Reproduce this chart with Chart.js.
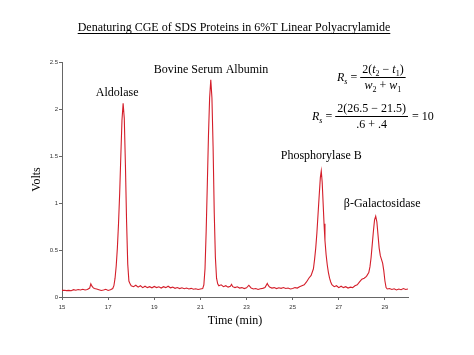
<!DOCTYPE html>
<html><head><meta charset="utf-8">
<script src="https://cdn.jsdelivr.net/npm/chart.js@4"></script>
<style>html,body{margin:0;padding:0;background:#fff}#wrap{width:474px;height:355px;position:relative}</style>
</head><body><div id="wrap"><canvas id="c" width="474" height="355"></canvas></div>
<script>
const times=[15.0,15.1,15.2,15.3,15.4,15.5,15.6,15.7,15.8,15.9,16.0,16.1,16.2,16.25,16.3,16.35,16.4,16.5,16.6,16.7,16.8,16.9,17.0,17.1,17.2,17.25,17.3,17.35,17.4,17.45,17.5,17.55,17.6,17.65,17.7,17.75,17.8,17.85,17.9,17.95,18.0,18.1,18.2,18.3,18.4,18.5,18.6,18.7,18.8,18.9,19.0,19.1,19.2,19.3,19.4,19.5,19.6,19.7,19.8,19.9,20.0,20.1,20.2,20.3,20.4,20.5,20.6,20.7,20.8,20.9,21.0,21.1,21.15,21.2,21.25,21.3,21.35,21.4,21.45,21.5,21.55,21.6,21.65,21.7,21.75,21.8,21.9,22.0,22.1,22.2,22.3,22.35,22.4,22.5,22.6,22.7,22.8,22.9,23.0,23.1,23.15,23.2,23.3,23.4,23.5,23.6,23.7,23.8,23.9,23.95,24.0,24.1,24.2,24.3,24.4,24.5,24.6,24.7,24.8,24.9,25.0,25.1,25.2,25.3,25.4,25.5,25.6,25.7,25.8,25.9,25.95,26.0,26.05,26.1,26.15,26.2,26.24,26.28,26.32,26.36,26.4,26.45,26.5,26.55,26.6,26.65,26.7,26.8,26.9,27.0,27.1,27.2,27.3,27.4,27.5,27.6,27.7,27.8,27.9,28.0,28.1,28.2,28.3,28.35,28.4,28.45,28.5,28.55,28.6,28.65,28.7,28.75,28.8,28.85,28.9,28.95,29.0,29.05,29.1,29.2,29.3,29.4,29.5,29.6,29.7,29.8,29.9,30.0];
const volts=[0.07,0.072,0.068,0.07,0.066,0.078,0.072,0.08,0.074,0.082,0.075,0.08,0.095,0.14,0.115,0.1,0.09,0.085,0.078,0.07,0.075,0.082,0.07,0.078,0.09,0.12,0.2,0.33,0.52,0.78,1.1,1.5,1.88,2.06,1.9,1.4,0.8,0.35,0.17,0.14,0.12,0.11,0.125,0.105,0.12,0.1,0.115,0.1,0.11,0.098,0.112,0.1,0.108,0.095,0.11,0.1,0.115,0.098,0.105,0.092,0.1,0.09,0.098,0.088,0.095,0.085,0.092,0.082,0.088,0.08,0.085,0.09,0.13,0.3,0.7,1.2,1.72,2.12,2.31,2.12,1.6,0.9,0.42,0.2,0.14,0.12,0.13,0.11,0.12,0.105,0.115,0.135,0.11,0.1,0.108,0.095,0.1,0.09,0.098,0.125,0.11,0.095,0.085,0.09,0.08,0.088,0.092,0.1,0.145,0.12,0.105,0.095,0.1,0.09,0.098,0.092,0.1,0.09,0.095,0.085,0.09,0.1,0.095,0.11,0.12,0.13,0.16,0.2,0.23,0.3,0.4,0.52,0.68,0.88,1.08,1.27,1.34,1.22,1.0,0.78,0.6,0.45,0.34,0.26,0.2,0.16,0.13,0.11,0.12,0.1,0.115,0.1,0.11,0.095,0.105,0.1,0.12,0.13,0.16,0.19,0.2,0.22,0.26,0.32,0.42,0.56,0.7,0.82,0.86,0.8,0.66,0.52,0.44,0.4,0.36,0.28,0.17,0.1,0.085,0.09,0.08,0.088,0.075,0.085,0.078,0.09,0.08,0.085];
const xTicks=[15,17,19,21,23,25,27,29];
const yTicks=[0,0.5,1,1.5,2,2.5];
const titleText='Denaturing CGE of SDS Proteins in 6%T Linear Polyacrylamide';
const xTitle='Time (min)';
const yTitle='Volts';
const peakNames=['Aldolase','Bovine Serum Albumin','Phosphorylase B','β-Galactosidase'];
const peakLabelAt=[[17.39,2.17],[21.46,2.415],[26.24,1.5],[28.88,0.99]];

const SERIF='"Liberation Serif","Times New Roman",serif';
function runsWidth(ctx,runs){let w=0;for(const r of runs){ctx.font=(r.it?'italic ':'')+(r.sub?'8px ':'12px ')+SERIF;w+=ctx.measureText(r.t).width;}return w;}
function drawRuns(ctx,runs,x,y){for(const r of runs){ctx.font=(r.it?'italic ':'')+(r.sub?'8px ':'12px ')+SERIF;ctx.fillText(r.t,x,y+(r.sub?3:0));x+=ctx.measureText(r.t).width;}return x;}
function drawFormula(ctx,left,barY,num,den,tail){
  ctx.textAlign='left';ctx.textBaseline='alphabetic';ctx.fillStyle='#000';
  let x=drawRuns(ctx,[{t:'R',it:true},{t:'s',it:true,sub:true},{t:' = '}],left,barY+4);
  const nw=runsWidth(ctx,num),dw=runsWidth(ctx,den);const W=Math.max(nw,dw)+4;
  drawRuns(ctx,num,x+(W-nw)/2,barY-4);
  drawRuns(ctx,den,x+(W-dw)/2,barY+12);
  ctx.strokeStyle='#000';ctx.lineWidth=1;ctx.beginPath();ctx.moveTo(x,barY+0.5);ctx.lineTo(x+W,barY+0.5);ctx.stroke();
  if(tail)drawRuns(ctx,tail,x+W+1,barY+4);
}
const deco={id:'deco',afterDraw(chart){
  const ctx=chart.ctx;ctx.save();
  ctx.fillStyle='#000';ctx.font='12px '+SERIF;ctx.textAlign='center';ctx.textBaseline='alphabetic';
  ctx.fillText(titleText,234,31);
  const tw=ctx.measureText(titleText).width;
  ctx.strokeStyle='#000';ctx.lineWidth=1;ctx.beginPath();ctx.moveTo(234-tw/2,33.5);ctx.lineTo(234+tw/2,33.5);ctx.stroke();
  const xs=chart.scales.x,ys=chart.scales.y;
  ctx.textBaseline='middle';ctx.font='12px '+SERIF;
  peakNames.forEach((n,i)=>{ctx.fillText(n,xs.getPixelForValue(peakLabelAt[i][0]),ys.getPixelForValue(peakLabelAt[i][1]));});
  drawFormula(ctx,337,77,[{t:'2('},{t:'t',it:true},{t:'2',sub:true},{t:' − '},{t:'t',it:true},{t:'1',sub:true},{t:')'}],[{t:'w',it:true},{t:'2',sub:true},{t:' + '},{t:'w',it:true},{t:'1',sub:true}],null);
  drawFormula(ctx,312,116,[{t:'2(26.5 − 21.5)'}],[{t:'.6 + .4'}],[{t:' = 10'}]);
  ctx.restore();
}};
new Chart(document.getElementById('c'),{
  type:'line',
  data:{datasets:[{data:times.map((t,i)=>({x:t,y:volts[i]})),borderColor:'#d41e2a',borderWidth:1.1,pointRadius:0,tension:0,fill:false}]},
  options:{responsive:false,animation:false,devicePixelRatio:1,
    layout:{padding:{left:26,right:66,top:62,bottom:23}},
    plugins:{legend:{display:false},tooltip:{enabled:false},title:{display:false}},
    scales:{
      x:{type:'linear',min:15,max:30,afterFit:s=>{s.height=35;},afterBuildTicks:s=>{s.ticks=xTicks.map(v=>({value:v}));},
        grid:{drawOnChartArea:false,drawTicks:true,tickLength:3,color:'#666'},border:{display:true,color:'#666',width:1},
        ticks:{padding:4,font:{family:'"Liberation Sans",Arial,sans-serif',size:6},color:'#333',maxRotation:0,autoSkip:false,callback:v=>String(v)},
        title:{display:true,text:xTitle,font:{family:SERIF,size:12},color:'#000'}},
      y:{type:'linear',min:0,max:2.5,afterFit:s=>{s.width=36;},afterBuildTicks:s=>{s.ticks=yTicks.map(v=>({value:v}));},
        grid:{drawOnChartArea:false,drawTicks:true,tickLength:3,color:'#666'},border:{display:true,color:'#666',width:1},
        ticks:{padding:1,font:{family:'"Liberation Sans",Arial,sans-serif',size:6},color:'#333',autoSkip:false,callback:v=>String(v)},
        title:{display:true,text:yTitle,font:{family:SERIF,size:12},color:'#000'}}
    }},
  plugins:[deco]
});
</script></body></html>
